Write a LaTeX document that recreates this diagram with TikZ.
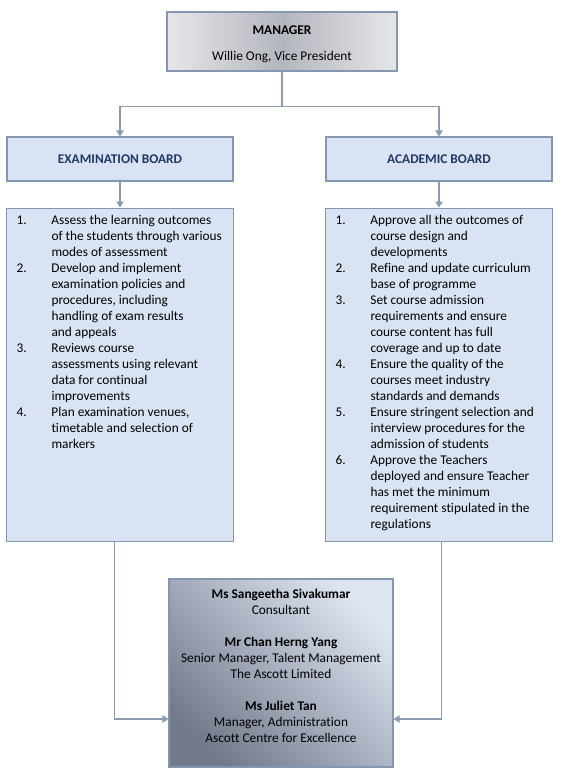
\documentclass[tikz,border=0pt]{standalone}
\usepackage{fontspec}
\setmainfont{Carlito}[Ligatures=NoCommon]
\usepackage{array}
\usepackage{tikz}
\usetikzlibrary{arrows.meta}
\usetikzlibrary{positioning}
\newdimen\pxu \pxu=0.75pt
\definecolor{boxfill}{HTML}{DAE3F3}
\definecolor{boxline}{HTML}{8496B0}
\definecolor{linkline}{HTML}{8A9AB1}
\definecolor{headtext}{HTML}{1F3864}
\definecolor{mgrlight}{HTML}{E6E6EA}
\definecolor{mgrdark}{HTML}{B4B6BE}
\definecolor{paneldark}{HTML}{737B8B}
\definecolor{panellight}{HTML}{DDE5F3}
\tikzset{
    box/.style={
           rectangle,
           draw=boxline, line width=0.8pt,
           fill=boxfill,
           inner sep=0pt,
           font=\fontsize{10}{12}\selectfont,
           },
    board/.style={box, minimum width=226\pxu, minimum height=44\pxu,
           text=headtext, font=\fontsize{10}{12}\selectfont\bfseries},
    duties/.style={box, minimum width=227\pxu, minimum height=333\pxu},
    link/.style={draw=linkline, line width=0.9pt,
           -{Triangle[width=5.5pt,length=4.5pt]}},
}

\begin{document}
\begin{tikzpicture}[x=0.75pt,y=-0.75pt,node distance=19.5pt]
	\useasboundingbox (0,0) rectangle (563,770);

	\node[box,minimum width=230\pxu,minimum height=59\pxu,
	      left color=mgrlight,right color=mgrlight,middle color=mgrdark] (mgr) at (282,41.5)
			{
				\begin{minipage}[t][37\pxu][t]{230\pxu}
				\centering
				\strut\textbf{MANAGER}\\[7.5pt]
				Willie Ong, Vice President
				\end{minipage}
			};

	\node[board] (exam) at (120,159) {EXAMINATION BOARD};
	\node[board] (acad) at (439,159) {ACADEMIC BOARD};

	\node[duties] (examlist) [below=of exam]
			{
				\begin{minipage}[t][323\pxu][t]{207\pxu}
				\begin{tabular}{@{}p{35\pxu}@{}l@{}}
				1. & Assess the learning outcomes\\
				   & of the students through various\\
				   & modes of assessment\\
				2. & Develop and implement\\
				   & examination policies and\\
				   & procedures, including\\
				   & handling of exam results\\
				   & and appeals\\
				3. & Reviews course\\
				   & assessments using relevant\\
				   & data for continual\\
				   & improvements\\
				4. & Plan examination venues,\\
				   & timetable and selection of\\
				   & markers
				\end{tabular}
				\end{minipage}
			};
	\node[duties] (acadlist) [below=of acad]
			{
				\begin{minipage}[t][323\pxu][t]{207\pxu}
				\begin{tabular}{@{}p{35\pxu}@{}l@{}}
				1. & Approve all the outcomes of\\
				   & course design and\\
				   & developments\\
				2. & Refine and update curriculum\\
				   & base of programme\\
				3. & Set course admission\\
				   & requirements and ensure\\
				   & course content has full\\
				   & coverage and up to date\\
				4. & Ensure the quality of the\\
				   & courses meet industry\\
				   & standards and demands\\
				5. & Ensure stringent selection and\\
				   & interview procedures for the\\
				   & admission of students\\
				6. & Approve the Teachers\\
				   & deployed and ensure Teacher\\
				   & has met the minimum\\
				   & requirement stipulated in the\\
				   & regulations
				\end{tabular}
				\end{minipage}
			};

	\node[box,minimum width=224\pxu,minimum height=188\pxu,
	      top color=panellight,bottom color=paneldark,shading angle=-45] (panel) at (281,673)
			{
				\begin{minipage}[t][168\pxu][t]{224\pxu}
				\centering
				\textbf{Ms Sangeetha Sivakumar}\\
				Consultant\\[12pt]
				\textbf{Mr Chan Herng Yang}\\
				Senior Manager, Talent Management\\
				The Ascott Limited\\[12pt]
				\textbf{Ms Juliet Tan}\\
				Manager, Administration\\
				Ascott Centre for Excellence
				\end{minipage}
			};

	\path[link] (mgr.south) -- ++(0,35) -| (exam.north);
	\path[link] (mgr.south) -- ++(0,35) -| (acad.north);

	\path[link] (exam.south) -- (exam.south |- examlist.north);
	\path[link] (acad.south) -- (acad.south |- acadlist.north);

	\path[link] ([xshift=-4pt]examlist.south) |- ([yshift=-34.5pt]panel.west);
	\path[link] ([xshift=2pt]acadlist.south) |- ([yshift=-34.5pt]panel.east);

\end{tikzpicture}
\end{document}
